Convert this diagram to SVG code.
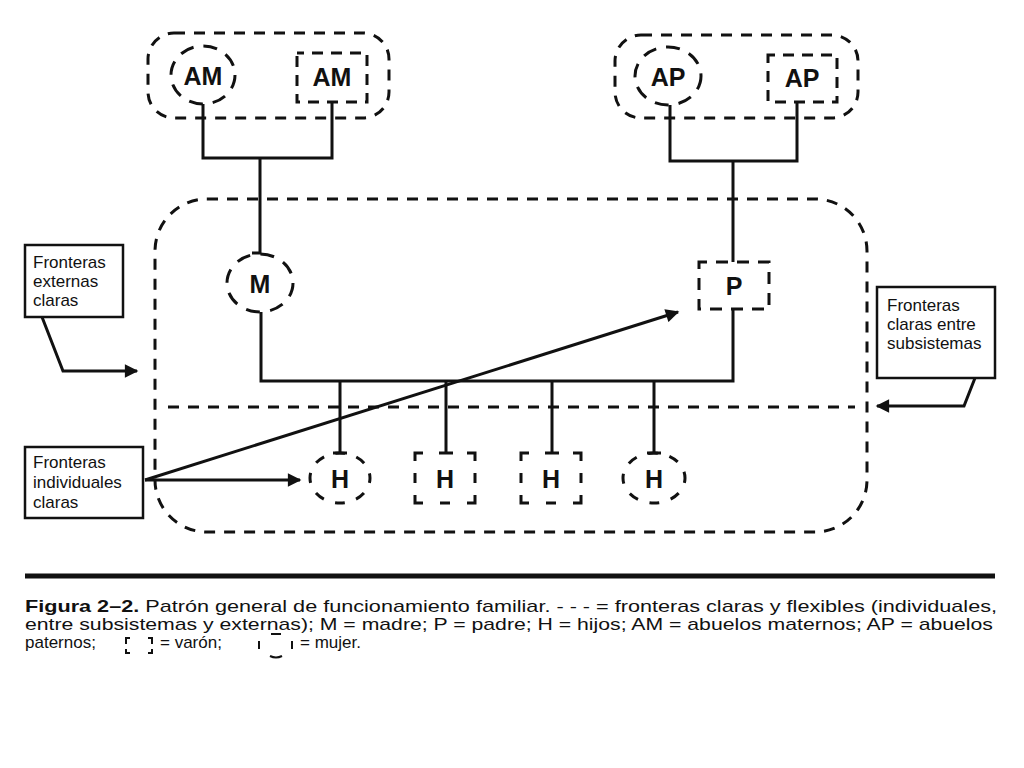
<svg xmlns="http://www.w3.org/2000/svg" width="1024" height="768" viewBox="0 0 1024 768">
<defs>
<style>
.bg{fill:#fff}
.grp{fill:none;stroke:#111;stroke-width:3;stroke-dasharray:11 9}
.node{fill:none;stroke:#111;stroke-width:3}
.line{fill:none;stroke:#111;stroke-width:3}
.dline{fill:none;stroke:#111;stroke-width:3;stroke-dasharray:11 9}
.box{fill:#fff;stroke:#111;stroke-width:2.5}
.lbl{font-family:"Liberation Sans",Arial,sans-serif;font-weight:bold;font-size:25px;fill:#111;text-anchor:middle;dominant-baseline:central}
.bt{font-family:"Liberation Sans",Arial,sans-serif;font-size:17px;fill:#111}
.cap{font-family:"Liberation Sans",Arial,sans-serif;font-size:17px;fill:#111}
</style>
<marker id="ah" viewBox="0 0 10 10" refX="9" refY="5" markerWidth="5" markerHeight="4.5" markerUnits="strokeWidth" orient="auto">
<path d="M0,0 L10,5 L0,10 z" fill="#111"/>
</marker>
</defs>
<rect class="bg" x="0" y="0" width="1024" height="768"/>

<g id="boundaries">
<rect id="grp-am" class="grp" x="148" y="33" width="241" height="85" rx="26"/>
<rect id="grp-ap" class="grp" x="615" y="35" width="243" height="83" rx="26"/>
<rect id="family" class="grp" x="155" y="199" width="712" height="333" rx="52"/>
<line id="subsys" class="dline" x1="168" y1="407" x2="855" y2="407"/>
</g>

<g id="connectors">
<path class="line" d="M203,104 V158 H332 V102"/>
<path class="line" d="M260,158 V253 H252"/>
<path class="line" d="M670,105 V161 H797 V102"/>
<path class="line" d="M733,161 V262"/>
<path class="line" d="M261,312 V381 H733 V309"/>
<path class="line" d="M340,381 V453 M333,453 H347"/>
<path class="line" d="M446,381 V453 M439,453 H453"/>
<path class="line" d="M552,381 V453 M545,453 H559"/>
<path class="line" d="M654,381 V453 M647,453 H661"/>
<path class="line" marker-end="url(#ah)" d="M42,317 L63,371 H137" stroke-width="2.5"/>
<path class="line" marker-end="url(#ah)" d="M975,378 L964,406 H877" stroke-width="2.5"/>
<path class="line" marker-end="url(#ah)" d="M145,480 H300" stroke-width="2.5"/>
<path class="line" marker-end="url(#ah)" d="M145,480 L678,312" stroke-width="2.5"/>
</g>

<g id="node-am1">
<ellipse class="node" cx="203" cy="75" rx="32" ry="29" stroke-dasharray="14 10"/>
<text class="lbl" x="203" y="76">AM</text>
</g>
<g id="node-am2">
<rect class="node" x="297" y="53" width="70" height="49" stroke-dasharray="11 8" stroke-dashoffset="4"/>
<text class="lbl" x="332" y="77">AM</text>
</g>
<g id="node-ap1">
<ellipse class="node" cx="668" cy="76" rx="33" ry="29" stroke-dasharray="14 10"/>
<text class="lbl" x="668" y="77">AP</text>
</g>
<g id="node-ap2">
<rect class="node" x="768" y="55" width="69" height="47" stroke-dasharray="11 8" stroke-dashoffset="4"/>
<text class="lbl" x="802" y="78">AP</text>
</g>
<g id="node-m">
<ellipse class="node" cx="260" cy="283" rx="33" ry="29" stroke-dasharray="14 10.4"/>
<text class="lbl" x="260" y="284">M</text>
</g>
<g id="node-p">
<rect class="node" x="699" y="262" width="70" height="47" stroke-dasharray="12 9" stroke-dashoffset="4"/>
<text class="lbl" x="734" y="286">P</text>
</g>
<g id="node-h1">
<ellipse class="node" cx="340" cy="478" rx="30" ry="25" stroke-dasharray="10 11.6" stroke-dashoffset="5"/>
<text class="lbl" x="340" y="479" font-size="22">H</text>
</g>
<g id="node-h2">
<path class="node" d="M415,461 V453 H423 M467,453 H475 V461 M475,495 V503 H467 M423,503 H415 V495 M440,503 H450 M415,473 V483 M475,473 V483"/>
<text class="lbl" x="445" y="479" font-size="22">H</text>
</g>
<g id="node-h3">
<path class="node" d="M521,461 V453 H529 M573,453 H581 V461 M581,495 V503 H573 M529,503 H521 V495 M546,503 H556 M521,473 V483 M581,473 V483"/>
<text class="lbl" x="551" y="479" font-size="22">H</text>
</g>
<g id="node-h4">
<ellipse class="node" cx="654" cy="478" rx="31" ry="25" stroke-dasharray="10 11.8" stroke-dashoffset="5"/>
<text class="lbl" x="654" y="479" font-size="22">H</text>
</g>

<g id="note-externas">
<rect class="box" x="25" y="245" width="98" height="72"/>
<text class="bt" x="33" y="268">Fronteras</text>
<text class="bt" x="33" y="287">externas</text>
<text class="bt" x="33" y="306">claras</text>
</g>
<g id="note-individuales">
<rect class="box" x="25" y="447" width="118" height="71"/>
<text class="bt" x="33" y="468">Fronteras</text>
<text class="bt" x="33" y="488">individuales</text>
<text class="bt" x="33" y="508">claras</text>
</g>
<g id="note-subsistemas">
<rect class="box" x="877" y="287" width="118" height="91"/>
<text class="bt" x="887" y="311">Fronteras</text>
<text class="bt" x="887" y="330">claras entre</text>
<text class="bt" x="887" y="349">subsistemas</text>
</g>

<g id="caption">
<line x1="25" y1="576" x2="995" y2="576" stroke="#111" stroke-width="5"/>
<text class="cap" x="25" y="612" textLength="972" lengthAdjust="spacingAndGlyphs"><tspan font-weight="bold">Figura 2–2.</tspan> Patrón general de funcionamiento familiar. - - - = fronteras claras y flexibles (individuales,</text>
<text class="cap" x="25" y="630" textLength="968" lengthAdjust="spacingAndGlyphs">entre subsistemas y externas); M = madre; P = padre; H = hijos; AM = abuelos maternos; AP = abuelos</text>
<text class="cap" x="25" y="648">paternos;</text>
<path d="M126,644 V638 H130 M148,638 H152 V644 M126,649 V653 H130 M148,653 H152 V649" fill="none" stroke="#111" stroke-width="2"/>
<text class="cap" x="160" y="648">= varón;</text>
<path d="M259,641 V649 M292,641 V649 M271,634 H281 M270,656 Q276,659 282,656" fill="none" stroke="#111" stroke-width="2"/>
<text class="cap" x="300" y="648">= mujer.</text>
</g>
</svg>
